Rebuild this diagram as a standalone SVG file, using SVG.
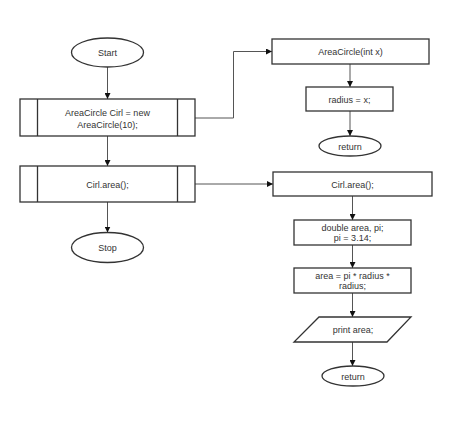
<svg xmlns="http://www.w3.org/2000/svg" width="474" height="425" viewBox="0 0 474 425">
<defs>
<style>
.shape{fill:#fff;stroke:#333;stroke-width:1.3}
.inner{stroke:#333;stroke-width:1.3;fill:none}
.edge{fill:none;stroke:#555;stroke-width:1}
text{font-family:"Liberation Sans",Arial,sans-serif;font-size:9px;fill:#333;text-anchor:middle}
</style>
<marker id="arr" viewBox="0 0 10 10" refX="10" refY="5" markerWidth="6" markerHeight="6" markerUnits="userSpaceOnUse" orient="auto">
<path d="M0,0 L10,5 L0,10 z" fill="#111"/>
</marker>
</defs>
<rect width="474" height="425" fill="#fff"/>
<g id="connectors">
<path class="edge" d="M107.5,67 V99" marker-end="url(#arr)"/>
<path class="edge" d="M107.5,136 V166" marker-end="url(#arr)"/>
<path class="edge" d="M107.5,202 V232.5" marker-end="url(#arr)"/>
<path class="edge" d="M195,118 H233.5 V51.5 H272" marker-end="url(#arr)"/>
<path class="edge" d="M195,184 H273" marker-end="url(#arr)"/>
<path class="edge" d="M350,64 V87" marker-end="url(#arr)"/>
<path class="edge" d="M350,111 V136" marker-end="url(#arr)"/>
<path class="edge" d="M352.5,196 V220" marker-end="url(#arr)"/>
<path class="edge" d="M352.5,245 V268" marker-end="url(#arr)"/>
<path class="edge" d="M352.5,293 V317" marker-end="url(#arr)"/>
<path class="edge" d="M352.5,342 V366" marker-end="url(#arr)"/>
</g>
<g id="start">
<ellipse class="shape" cx="107.5" cy="52.5" rx="36" ry="14.5"/>
<text x="107.5" y="56">Start</text>
</g>
<g id="newAreaCircle">
<rect class="shape" x="20" y="99" width="175" height="37"/>
<line class="inner" x1="37.5" y1="99" x2="37.5" y2="136"/>
<line class="inner" x1="177.5" y1="99" x2="177.5" y2="136"/>
<text x="107.5" y="115.5">AreaCircle Cirl = new</text>
<text x="107.5" y="127.5">AreaCircle(10);</text>
</g>
<g id="callArea">
<rect class="shape" x="20" y="166" width="175" height="36"/>
<line class="inner" x1="37.5" y1="166" x2="37.5" y2="202"/>
<line class="inner" x1="177.5" y1="166" x2="177.5" y2="202"/>
<text x="107.5" y="187.5">Cirl.area();</text>
</g>
<g id="stop">
<ellipse class="shape" cx="107.5" cy="247.5" rx="36" ry="15"/>
<text x="107.5" y="251">Stop</text>
</g>
<g id="constructor">
<rect class="shape" x="272" y="39" width="157" height="25"/>
<text x="350.5" y="54.5">AreaCircle(int x)</text>
</g>
<g id="assignRadius">
<rect class="shape" x="306" y="87" width="87" height="24"/>
<text x="349.5" y="102.5">radius = x;</text>
</g>
<g id="return1">
<ellipse class="shape" cx="350" cy="146" rx="31" ry="10"/>
<text x="350" y="149.5">return</text>
</g>
<g id="areaMethod">
<rect class="shape" x="273" y="172" width="159" height="24"/>
<text x="352.5" y="187.5">Cirl.area();</text>
</g>
<g id="declare">
<rect class="shape" x="294" y="220" width="117" height="25"/>
<text x="352.5" y="230.5">double area, pi;</text>
<text x="352.5" y="240.5">pi = 3.14;</text>
</g>
<g id="compute">
<rect class="shape" x="294" y="268" width="117" height="25"/>
<text x="352.5" y="278.5">area = pi * radius *</text>
<text x="352.5" y="288.5">radius;</text>
</g>
<g id="print">
<polygon class="shape" points="319,317 411,317 387,342 294,342"/>
<text x="353" y="333">print area;</text>
</g>
<g id="return2">
<ellipse class="shape" cx="353" cy="376" rx="31" ry="10"/>
<text x="353" y="379.5">return</text>
</g>
</svg>
